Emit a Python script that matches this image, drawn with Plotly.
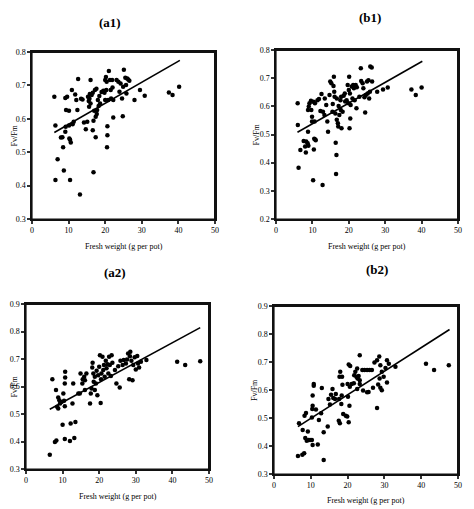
import plotly.graph_objects as go

# ---- data ----
a1_x = [6.1, 6.4, 6.4, 7.0, 7.9, 8.3, 8.5, 8.7, 9.1, 9.2, 9.1, 9.6, 9.3, 10.1, 10.1, 10.2, 10.4, 10.6,
        10.4, 10.9, 11.1, 11.4, 11.8, 12.1, 12.4, 12.6, 13.1, 13.4, 13.8, 14.2, 14.7, 15.1, 15.3, 15.5,
        15.7, 15.8, 16.0, 16.0, 15.6, 16.3, 16.6, 16.6, 16.8, 16.8, 17.0, 17.2, 17.6, 17.4, 17.7, 17.4,
        17.8, 18.0, 18.2, 18.4, 18.6, 19.0, 19.5, 19.8, 20.0, 20.0, 20.2, 20.4, 20.3, 20.5, 20.6, 20.6,
        20.8, 21.0, 21.3, 21.5, 21.6, 21.9, 22.2, 22.2, 22.0, 23.1, 23.6, 23.9, 24.2, 24.6, 24.8, 24.9,
        25.1, 25.5, 25.7, 25.8, 26.0, 26.3, 26.6, 28.0, 29.5, 30.8, 37.4, 38.4, 40.2]
a1_y = [0.666, 0.580, 0.417, 0.479, 0.544, 0.545, 0.515, 0.445, 0.561, 0.576, 0.662, 0.666, 0.626, 0.624,
        0.580, 0.541, 0.537, 0.529, 0.417, 0.686, 0.584, 0.591, 0.673, 0.656, 0.626, 0.719, 0.373, 0.660,
        0.658, 0.589, 0.569, 0.591, 0.666, 0.653, 0.660, 0.674, 0.716, 0.646, 0.636, 0.671, 0.678, 0.566,
        0.594, 0.440, 0.624, 0.686, 0.690, 0.606, 0.614, 0.545, 0.626, 0.656, 0.638, 0.668, 0.646, 0.680,
        0.684, 0.678, 0.656, 0.716, 0.725, 0.711, 0.686, 0.515, 0.551, 0.578, 0.656, 0.743, 0.716, 0.686,
        0.661, 0.716, 0.656, 0.604, 0.694, 0.716, 0.711, 0.681, 0.706, 0.661, 0.608, 0.696, 0.747, 0.723,
        0.701, 0.676, 0.721, 0.718, 0.714, 0.656, 0.686, 0.669, 0.679, 0.671, 0.696]
a1_fit_x = [6.1, 40.4]
a1_fit_y = [0.559, 0.775]

b1_x = [5.95, 6.0, 6.2, 6.7, 7.6, 8.0, 8.2, 8.3, 8.7, 8.8, 8.8, 8.9, 9.0, 9.2, 9.6, 9.7, 9.9, 9.9,
        10.2, 10.3, 10.4, 10.5, 10.6, 10.7, 10.8, 10.9, 11.4, 11.8, 12.2, 12.5, 12.9, 12.8, 13.3, 13.4,
        13.8, 14.1, 14.3, 14.7, 14.9, 15.2, 15.5, 15.6, 15.8, 15.9, 16.0, 16.1, 16.3, 16.4, 16.5, 16.6,
        16.7, 16.7, 17.0, 17.1, 17.2, 17.4, 17.7, 17.8, 17.9, 18.0, 18.3, 18.6, 18.9, 19.0, 19.4, 19.7,
        19.9, 20.0, 20.1, 20.2, 20.4, 20.3, 20.5, 20.8, 21.0, 21.2, 21.4, 21.6, 21.9, 22.1, 22.2, 22.9,
        23.3, 23.4, 23.8, 24.0, 24.3, 24.5, 24.7, 25.0, 25.2, 25.4, 25.6, 25.8, 25.9, 26.3, 26.4, 27.8,
        29.4, 30.7, 37.2, 38.4, 40.0]
b1_y = [0.611, 0.534, 0.382, 0.445, 0.477, 0.457, 0.436, 0.475, 0.469, 0.510, 0.587, 0.460, 0.599, 0.611,
        0.620, 0.587, 0.563, 0.546, 0.338, 0.616, 0.447, 0.485, 0.546, 0.611, 0.482, 0.480, 0.622, 0.626,
        0.583, 0.644, 0.581, 0.321, 0.569, 0.628, 0.605, 0.546, 0.510, 0.640, 0.688, 0.682, 0.581, 0.608,
        0.672, 0.705, 0.652, 0.634, 0.575, 0.471, 0.360, 0.427, 0.628, 0.552, 0.540, 0.528, 0.601, 0.569,
        0.622, 0.587, 0.634, 0.522, 0.581, 0.638, 0.646, 0.617, 0.622, 0.676, 0.611, 0.658, 0.705, 0.522,
        0.557, 0.646, 0.605, 0.670, 0.628, 0.676, 0.664, 0.622, 0.676, 0.593, 0.668, 0.634, 0.735, 0.690,
        0.682, 0.664, 0.632, 0.578, 0.640, 0.688, 0.646, 0.693, 0.628, 0.652, 0.741, 0.738, 0.688, 0.652,
        0.660, 0.667, 0.660, 0.640, 0.667]
b1_fit_x = [5.9, 40.2]
b1_fit_y = [0.508, 0.760]

a2_x = [6.5, 7.2, 7.9, 8.2, 8.3, 10.0, 12.2, 13.5, 10.6, 12.0, 13.2, 8.8, 9.1, 9.3, 8.5, 8.8, 9.7, 10.2,
        10.6, 10.4, 10.6, 10.7, 10.7, 12.7, 12.9, 14.3, 14.7, 14.9, 15.4, 15.5, 15.9, 16.1, 16.1, 16.5,
        17.5, 17.9, 17.7, 18.1, 18.2, 18.4, 18.5, 18.8, 18.8, 19.1, 19.3, 19.5, 19.7, 20.0, 20.2, 20.4,
        20.5, 20.6, 20.9, 21.1, 21.3, 21.5, 21.8, 22.0, 22.3, 22.5, 22.7, 22.9, 23.2, 23.4, 23.6, 24.3,
        24.7, 25.2, 25.6, 25.8, 26.4, 26.7, 27.3, 27.6, 27.9, 28.2, 28.4, 28.5, 28.8, 29.1, 29.3, 29.7,
        30.0, 30.4, 30.6, 30.9, 31.4, 32.9, 41.3, 43.5, 47.6]
a2_y = [0.352, 0.626, 0.398, 0.587, 0.404, 0.461, 0.465, 0.471, 0.409, 0.402, 0.413, 0.560, 0.550, 0.538,
        0.526, 0.520, 0.544, 0.575, 0.528, 0.548, 0.611, 0.633, 0.654, 0.538, 0.611, 0.575, 0.575, 0.647,
        0.611, 0.626, 0.635, 0.623, 0.587, 0.647, 0.538, 0.593, 0.575, 0.669, 0.686, 0.647, 0.617, 0.587,
        0.635, 0.611, 0.657, 0.568, 0.641, 0.672, 0.714, 0.540, 0.626, 0.647, 0.708, 0.660, 0.678, 0.635,
        0.694, 0.666, 0.681, 0.647, 0.708, 0.678, 0.638, 0.714, 0.686, 0.660, 0.611, 0.674, 0.596, 0.694,
        0.678, 0.696, 0.684, 0.698, 0.720, 0.626, 0.710, 0.726, 0.694, 0.623, 0.678, 0.706, 0.662, 0.711,
        0.684, 0.669, 0.690, 0.696, 0.690, 0.678, 0.692]
a2_fit_x = [6.5, 47.6]
a2_fit_y = [0.517, 0.814]

b2_x = [6.5, 6.8, 7.7, 8.2, 7.8, 8.3, 8.7, 8.5, 8.9, 9.2, 9.4, 9.8, 10.3, 10.5, 10.3, 10.4, 10.5, 10.5,
        10.8, 10.8, 11.4, 11.9, 12.2, 12.8, 13.0, 13.5, 13.5, 14.6, 14.8, 15.5, 15.2, 15.9, 16.1, 16.8,
        16.6, 17.7, 17.6, 17.9, 18.4, 18.3, 18.6, 18.8, 19.5, 19.9, 20.3, 20.1, 20.0, 20.5, 20.6, 21.1,
        21.7, 22.6, 23.3, 24.2, 25.3, 23.3, 28.6, 28.0, 27.3, 28.9, 30.7, 31.2, 33.0, 30.3, 29.3, 26.6,
        26.0, 25.3, 24.6, 24.0, 22.6, 22.1, 21.8, 22.4, 22.7, 23.0, 23.3, 20.3, 20.7, 18.0, 17.8, 18.5,
        25.7, 26.9, 28.3, 28.9, 29.3, 30.7, 28.7, 29.8, 28.0, 41.3, 43.5, 47.5]
b2_y = [0.364, 0.481, 0.369, 0.374, 0.457, 0.508, 0.518, 0.429, 0.419, 0.452, 0.421, 0.421, 0.421, 0.404,
        0.502, 0.532, 0.544, 0.580, 0.615, 0.621, 0.530, 0.405, 0.493, 0.517, 0.607, 0.350, 0.449, 0.470,
        0.568, 0.583, 0.548, 0.604, 0.571, 0.586, 0.568, 0.568, 0.490, 0.481, 0.580, 0.550, 0.619, 0.514,
        0.508, 0.505, 0.485, 0.576, 0.621, 0.544, 0.612, 0.621, 0.624, 0.604, 0.621, 0.598, 0.592, 0.724,
        0.720, 0.706, 0.698, 0.688, 0.706, 0.694, 0.683, 0.679, 0.665, 0.671, 0.671, 0.671, 0.671, 0.671,
        0.677, 0.665, 0.653, 0.647, 0.641, 0.650, 0.635, 0.691, 0.686, 0.665, 0.647, 0.647, 0.593, 0.608,
        0.620, 0.608, 0.599, 0.627, 0.641, 0.647, 0.536, 0.694, 0.671, 0.688]
b2_fit_x = [6.5, 47.7]
b2_fit_y = [0.469, 0.816]

panel_titles = ["(a1)", "(b1)", "(a2)", "(b2)"]
y_ranges = [[0.3, 0.8], [0.2, 0.8], [0.3, 0.9], [0.3, 0.9]]
x_label = "Fresh weight (g per pot)"
y_label = "Fv/Fm"

OFF = 8                       # page body margin in the browser
W, H = 474 - OFF, 509 - OFF
ML, MR, MT, MB = 10, 10, 10, 10      # fixed margins, no automargin
PW, PH = W - ML - MR, H - MT - MB
SERIF = "Liberation Serif, Times New Roman, serif"


def px_x(p):
    return (p - OFF - ML) / PW


def px_y(p):
    return 1 - (p - OFF - MT) / PH


# plot boxes in window pixels: left, right, top, bottom
boxes = [(32, 215, 52, 219), (276, 458, 50, 219), (26, 209, 304, 469), (274, 458, 306, 474)]
title_pos = [(110, 22), (370, 17), (115, 272), (377, 269)]

fig = go.Figure()
layout = dict(
    width=W, height=H, margin=dict(l=ML, r=MR, t=MT, b=MB, autoexpand=False),
    paper_bgcolor="white", plot_bgcolor="white", showlegend=False,
    font=dict(family=SERIF, size=8, color="black"),
)
annotations = []
shapes = []

panels = [(a1_x, a1_y, a1_fit_x, a1_fit_y), (b1_x, b1_y, b1_fit_x, b1_fit_y),
          (a2_x, a2_y, a2_fit_x, a2_fit_y), (b2_x, b2_y, b2_fit_x, b2_fit_y)]

for i, (px, py, fx, fy) in enumerate(panels):
    n = "" if i == 0 else str(i + 1)
    xa, ya = "x" + n, "y" + n
    l, r, t, b = boxes[i]
    fig.add_trace(go.Scatter(x=px, y=py, mode="markers", xaxis=xa, yaxis=ya,
                             marker=dict(color="black", size=4.5)))
    fig.add_trace(go.Scatter(x=fx, y=fy, mode="lines", xaxis=xa, yaxis=ya,
                             line=dict(color="black", width=1.6)))
    layout["xaxis" + n] = dict(
        domain=[px_x(l), px_x(r)], anchor=ya, range=[0, 50], dtick=10, automargin=False,
        showgrid=False, zeroline=False, showline=True, linecolor="#111111", linewidth=1.5,
        mirror=True, ticks="outside", ticklen=3, tickwidth=1.5, tickcolor="#333333",
        tickfont=dict(size=8, family=SERIF, color="black"),
    )
    layout["yaxis" + n] = dict(
        domain=[px_y(b), px_y(t)], anchor=xa, range=y_ranges[i], dtick=0.1, automargin=False,
        tickformat=".1f", showgrid=False, zeroline=False, showline=True, linecolor="#111111",
        linewidth=1.5, mirror=True, ticks="outside", ticklen=3, tickwidth=1.5,
        tickcolor="#333333", tickfont=dict(size=8, family=SERIF, color="black"),
    )
    # full frame plus thicker top and right edges
    shapes.append(dict(type="rect", xref=xa + " domain", yref=ya + " domain",
                       x0=0, x1=1, y0=0, y1=1, layer="above",
                       line=dict(color="#111111", width=1.2)))
    shapes.append(dict(type="line", xref="paper", yref="paper", layer="above",
                       x0=px_x(l), x1=px_x(r), y0=px_y(t), y1=px_y(t),
                       line=dict(color="#111111", width=2)))
    shapes.append(dict(type="line", xref="paper", yref="paper", layer="above",
                       x0=px_x(r), x1=px_x(r), y0=px_y(b), y1=px_y(t),
                       line=dict(color="#111111", width=2)))
    tx, ty = title_pos[i]
    annotations.append(dict(text="<b>" + panel_titles[i] + "</b>", x=px_x(tx), y=px_y(ty),
                            xref="paper", yref="paper", showarrow=False,
                            xanchor="center", yanchor="middle",
                            font=dict(size=13, family=SERIF, color="black")))
    annotations.append(dict(text=x_label, x=px_x((l + r) / 2), y=px_y(b + 27),
                            xref="paper", yref="paper", showarrow=False,
                            xanchor="center", yanchor="middle",
                            font=dict(size=8, family=SERIF, color="black")))
    annotations.append(dict(text=y_label, x=px_x(max(l - 20, 14)), y=px_y((t + b) / 2),
                            xref="paper", yref="paper", showarrow=False, textangle=-90,
                            xanchor="center", yanchor="middle",
                            font=dict(size=8, family=SERIF, color="black")))

layout["annotations"] = annotations
layout["shapes"] = shapes
fig.update_layout(**layout)

fig.write_html("out.html")
